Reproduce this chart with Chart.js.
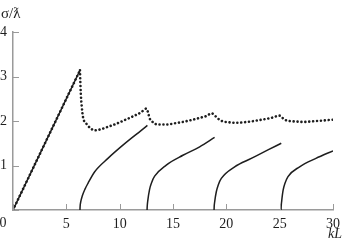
<!DOCTYPE html>
<html>
<head>
<meta charset="utf-8">
<script src="https://cdn.jsdelivr.net/npm/chart.js@4/dist/chart.umd.min.js"></script>
<style>
html,body{margin:0;padding:0;background:#fff;}
#wrap{width:343px;height:250px;position:relative;}
</style>
</head>
<body>
<div id="wrap"><canvas id="c" width="343" height="250"></canvas></div>
<script>
// ---- data ----
const xTickValues = [0, 5, 10, 15, 20, 25, 30];
const yTickValues = [0, 1, 2, 3, 4];
const xAxisLabel = "kL";
const yAxisLabel = "σ/ƛ";

const lineX = [0, 6.28];
const lineY = [0, 3.14];

const dottedX = [6.28, 6.31, 6.36, 6.45, 6.56, 6.88, 7.2, 7.66, 8.3, 8.9, 9.7, 10.47, 11.3, 12.03, 12.5, 12.65, 12.81, 13.0, 13.28, 13.8, 14.37, 15.2, 15.93, 16.7, 17.5, 18.1, 18.65, 18.85, 19.06, 19.35, 19.68, 20.3, 20.9, 22.0, 23.1, 24.2, 25.0, 25.15, 25.4, 25.9, 26.5, 27.2, 28.5, 30];
const dottedY = [3.14, 2.9, 2.6, 2.32, 2.09, 1.94, 1.85, 1.79, 1.82, 1.87, 1.94, 2.02, 2.11, 2.2, 2.28, 2.2, 2.06, 2.0, 1.94, 1.92, 1.92, 1.95, 1.98, 2.02, 2.07, 2.11, 2.17, 2.14, 2.09, 2.03, 1.99, 1.97, 1.96, 1.98, 2.02, 2.07, 2.12, 2.1, 2.04, 2.0, 1.99, 1.98, 2.0, 2.03];

const curve1X = [6.28, 6.29, 6.35, 6.5, 6.75, 7.03, 7.66, 8.9, 10.47, 12.03, 12.6];
const curve1Y = [0, 0.07, 0.18, 0.32, 0.47, 0.6, 0.86, 1.16, 1.49, 1.79, 1.9];
const curve2X = [12.57, 12.58, 12.63, 12.8, 13.0, 13.28, 14.37, 15.93, 17.5, 18.9];
const curve2Y = [0, 0.07, 0.2, 0.46, 0.62, 0.76, 1.01, 1.23, 1.42, 1.63];
const curve3X = [18.85, 18.86, 18.91, 19.06, 19.25, 19.53, 20.78, 22.34, 23.9, 25.15];
const curve3Y = [0, 0.07, 0.19, 0.41, 0.57, 0.71, 0.97, 1.16, 1.35, 1.5];
const curve4X = [25.13, 25.14, 25.19, 25.32, 25.5, 25.78, 26.87, 28.4, 30];
const curve4Y = [0, 0.07, 0.2, 0.44, 0.6, 0.75, 0.97, 1.16, 1.33];

function pts(xs, ys){ return xs.map((x,i)=>({x:x, y:ys[i]})); }

const INK = '#1e1e1e';
const AXIS = '#9a9a9a';
const FONT = "'Liberation Serif', 'DejaVu Serif', serif";

const solid = (xs, ys) => ({
  data: pts(xs, ys), borderColor: INK, borderWidth: 1.5, pointRadius: 0,
  showLine: true, fill: false, cubicInterpolationMode: 'monotone'
});
const dotted = (xs, ys) => ({
  data: pts(xs, ys), borderColor: INK, borderWidth: 2.6,
  borderDash: [0.01, 3.9], borderCapStyle: 'round', pointRadius: 0,
  showLine: true, fill: false, cubicInterpolationMode: 'monotone'
});

const extras = {
  id: 'extras',
  afterDraw(chart){
    const {ctx, scales:{x, y}} = chart;
    const ca = chart.chartArea;
    ctx.save();
    ctx.strokeStyle = AXIS; ctx.lineWidth = 1;
    xTickValues.forEach(v => {
      const px = Math.round(x.getPixelForValue(v)) + 0.5;
      ctx.beginPath(); ctx.moveTo(px, ca.bottom); ctx.lineTo(px, ca.bottom - 6); ctx.stroke();
    });
    yTickValues.forEach(v => {
      const py = Math.round(y.getPixelForValue(v)) + 0.5;
      ctx.beginPath(); ctx.moveTo(ca.left, py); ctx.lineTo(ca.left + 6, py); ctx.stroke();
    });
    ctx.fillStyle = INK;
    ctx.font = "14px " + FONT;
    ctx.textAlign = 'center'; ctx.textBaseline = 'alphabetic';
    ctx.fillText('0', x.getPixelForValue(0) - 10, ca.bottom + 17);
    ctx.font = "italic 14px " + FONT;
    ctx.textAlign = 'right';
    ctx.fillText(xAxisLabel, chart.width - 1, chart.height - 12);
    ctx.font = "15px " + FONT;
    ctx.textAlign = 'left';
    ctx.fillText(yAxisLabel, 1, 18);
    ctx.restore();
  }
};

new Chart(document.getElementById('c'), {
  type: 'scatter',
  data: {
    datasets: [
      solid(lineX, lineY),
      solid(curve1X, curve1Y),
      solid(curve2X, curve2Y),
      solid(curve3X, curve3Y),
      solid(curve4X, curve4Y),
      dotted(lineX, lineY),
      dotted(dottedX, dottedY)
    ]
  },
  options: {
    responsive: false, animation: false, devicePixelRatio: 1,
    layout: { padding: { top: 32, left: 0, right: 10, bottom: 20 } },
    plugins: { legend: { display: false }, tooltip: { enabled: false }, title: { display: false } },
    scales: {
      x: {
        type: 'linear', min: 0, max: 30,
        afterBuildTicks: s => { s.ticks = xTickValues.map(v => ({value: v})); },
        afterFit: s => { s.height = 20; s.paddingLeft = 0; s.paddingRight = 0; },
        ticks: { color: INK, font: { family: FONT, size: 14 }, padding: 6, maxRotation: 0,
                 callback: v => v === 0 ? '' : String(v) },
        grid: { display: false, drawTicks: false },
        border: { display: true, color: AXIS, width: 1.5 }
      },
      y: {
        type: 'linear', min: 0, max: 4,
        afterBuildTicks: s => { s.ticks = yTickValues.map(v => ({value: v})); },
        afterFit: s => { s.width = 13; },
        ticks: { color: INK, font: { family: FONT, size: 14 }, padding: 6,
                 callback: v => v === 0 ? '' : String(v) },
        grid: { display: false, drawTicks: false },
        border: { display: true, color: AXIS, width: 1.5 }
      }
    }
  },
  plugins: [extras]
});
</script>
</body>
</html>
